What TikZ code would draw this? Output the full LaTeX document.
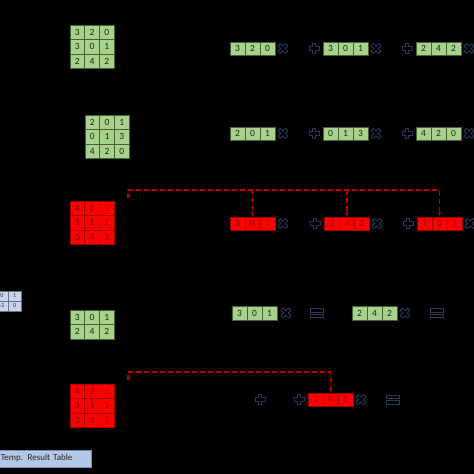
\documentclass[tikz,border=0pt]{standalone}
\usepackage{fontspec}
\setmainfont{Carlito}
\usetikzlibrary{calc, arrows.meta, positioning}

\definecolor{greenfill}{RGB}{169,209,142}
\definecolor{greenline}{RGB}{70,100,50}
\definecolor{greentext}{RGB}{25,45,15}
\definecolor{redline}{RGB}{160,0,0}
\definecolor{redtext}{RGB}{120,0,0}
\definecolor{keyfill}{RGB}{200,212,235}
\definecolor{keytext}{RGB}{40,50,80}
\definecolor{tempfill}{RGB}{180,199,231}
\definecolor{opcolor}{RGB}{45,56,90}
\definecolor{dashred}{RGB}{192,0,0}

\begin{document}
\begin{tikzpicture} [x=1pt, y=-1pt, node distance=0pt,
		% define styles
		matcell/.style={
			% The shape:
			rectangle, inner sep=0pt, outer sep=0pt,
			% The size:
			minimum width=14.7pt, minimum height=14.4pt,
			% The border:
			draw=greenline, line width=0.6pt,
			% The filling:
			fill=greenfill,
			% Font
			text=greentext, font=\fontsize{9.5}{10}\selectfont
		},
		redmatcell/.style={
			matcell,
			draw=redline, fill=red, text=redtext
		},
		veccell/.style={
			matcell,
			minimum width=15pt, minimum height=13pt
		},
		redveccell/.style={
			veccell,
			draw=redline, fill=red, text=redtext
		},
		keycell/.style={
			rectangle, inner sep=0pt, outer sep=0pt,
			minimum width=12.7pt, minimum height=10pt,
			draw=keytext!70, line width=0.4pt,
			fill=keyfill, text=keytext,
			font=\fontsize{6}{6}\selectfont
		},
		tempbox/.style={
			rectangle, inner xsep=2pt, inner ysep=0pt,
			minimum height=17pt, text width=88pt, align=left,
			draw=tempfill!70!black, line width=0.4pt,
			fill=tempfill, text=black!85,
			font=\fontsize{9}{9}\selectfont
		},
		opsign/.style={
			draw=opcolor, line width=1pt, line join=round
		},
		dashline/.style={
			-{Stealth[length=4pt, width=3.5pt]},
			% Thickness
			line width=1.4pt,
			dash pattern=on 5pt off 3pt,
			shorten >=1pt,
			% Color
			dashred
		},
		plussign/.pic={
			\draw[opsign] (-1.6,-5) -- (1.6,-5) -- (1.6,-1.6) -- (5,-1.6) -- (5,1.6) -- (1.6,1.6)
				-- (1.6,5) -- (-1.6,5) -- (-1.6,1.6) -- (-5,1.6) -- (-5,-1.6) -- (-1.6,-1.6) -- cycle;
		},
		timessign/.pic={
			\draw[opsign, rotate=45] (-1.6,-5.5) -- (1.6,-5.5) -- (1.6,-1.6) -- (5.5,-1.6) -- (5.5,1.6) -- (1.6,1.6)
				-- (1.6,5.5) -- (-1.6,5.5) -- (-1.6,1.6) -- (-5.5,1.6) -- (-5.5,-1.6) -- (-1.6,-1.6) -- cycle;
		},
		equalsign/.pic={
			\draw[opsign] (-6.5,-4.5) rectangle (6.5,-1);
			\draw[opsign] (-6.5,1) rectangle (6.5,4.5);
		}]
		% end of style definition

		% page and background
		\useasboundingbox (0,0) rectangle (474,474);
		\fill[black] (0,0) rectangle (474,474);
		\clip (0,0) rectangle (474,474);

		% draw matrices
		\node (a11) [matcell] at (77.3,32.2) {3};
		\node (a12) [matcell, right=of a11] {2};
		\node (a13) [matcell, right=of a12] {0};
		\node (a21) [matcell, below=of a11] {3};
		\node (a22) [matcell, right=of a21] {0};
		\node (a23) [matcell, right=of a22] {1};
		\node (a31) [matcell, below=of a21] {2};
		\node (a32) [matcell, right=of a31] {4};
		\node (a33) [matcell, right=of a32] {2};

		\node (b11) [matcell] at (92.3,122.2) {2};
		\node (b12) [matcell, right=of b11] {0};
		\node (b13) [matcell, right=of b12] {1};
		\node (b21) [matcell, below=of b11] {0};
		\node (b22) [matcell, right=of b21] {1};
		\node (b23) [matcell, right=of b22] {3};
		\node (b31) [matcell, below=of b21] {4};
		\node (b32) [matcell, right=of b31] {2};
		\node (b33) [matcell, right=of b32] {0};

		\node (c11) [redmatcell] at (77.3,208.2) {4};
		\node (c12) [redmatcell, right=of c11] {3};
		\node (c13) [redmatcell, right=of c12] {1};
		\node (c21) [redmatcell, below=of c11] {3};
		\node (c22) [redmatcell, right=of c21] {1};
		\node (c23) [redmatcell, right=of c22] {1};
		\node (c31) [redmatcell, below=of c21] {0};
		\node (c32) [redmatcell, right=of c31] {4};
		\node (c33) [redmatcell, right=of c32] {2};

		\node (d11) [matcell] at (77.3,317.2) {3};
		\node (d12) [matcell, right=of d11] {0};
		\node (d13) [matcell, right=of d12] {1};
		\node (d21) [matcell, below=of d11] {2};
		\node (d22) [matcell, right=of d21] {4};
		\node (d23) [matcell, right=of d22] {2};

		\node (e11) [redmatcell] at (77.3,391.2) {4};
		\node (e12) [redmatcell, right=of e11] {3};
		\node (e13) [redmatcell, right=of e12] {1};
		\node (e21) [redmatcell, below=of e11] {3};
		\node (e22) [redmatcell, right=of e21] {1};
		\node (e23) [redmatcell, right=of e22] {1};
		\node (e31) [redmatcell, below=of e21] {0};
		\node (e32) [redmatcell, right=of e31] {4};
		\node (e33) [redmatcell, right=of e32] {2};

		% small key table and result box
		\node (k11) [keycell] at (2,296) {0};
		\node (k12) [keycell, right=of k11] {1};
		\node (k21) [keycell, below=of k11] {-2};
		\node (k22) [keycell, right=of k21] {0};
		\node (temp) [tempbox, anchor=east] at (91,458.5) {Temp. Result Table};

		% first row of vectors
		\node (p1a) [veccell] at (237.5,48.5) {3};
		\node (p1b) [veccell, right=of p1a] {2};
		\node (p1c) [veccell, right=of p1b] {0};
		\node (p2a) [veccell] at (330.5,48.5) {3};
		\node (p2b) [veccell, right=of p2a] {0};
		\node (p2c) [veccell, right=of p2b] {1};
		\node (p3a) [veccell] at (423.5,48.5) {2};
		\node (p3b) [veccell, right=of p3a] {4};
		\node (p3c) [veccell, right=of p3b] {2};
		\pic (px1) at (283,48.5) {timessign};
		\pic (pp1) at (314,48.5) {plussign};
		\pic (px2) at (376,48.5) {timessign};
		\pic (pp2) at (407,48.5) {plussign};
		\pic (px3) at (469,48.5) {timessign};

		% second row of vectors
		\node (q1a) [veccell] at (237.5,133.5) {2};
		\node (q1b) [veccell, right=of q1a] {0};
		\node (q1c) [veccell, right=of q1b] {1};
		\node (q2a) [veccell] at (330.5,133.5) {0};
		\node (q2b) [veccell, right=of q2a] {1};
		\node (q2c) [veccell, right=of q2b] {3};
		\node (q3a) [veccell] at (423.5,133.5) {4};
		\node (q3b) [veccell, right=of q3a] {2};
		\node (q3c) [veccell, right=of q3b] {0};
		\pic (qx1) at (283,133.5) {timessign};
		\pic (qp1) at (314,133.5) {plussign};
		\pic (qx2) at (376,133.5) {timessign};
		\pic (qp2) at (407,133.5) {plussign};
		\pic (qx3) at (469,133.5) {timessign};

		% third row of vectors (red)
		\node (s1a) [redveccell] at (237.5,223.5) {3};
		\node (s1b) [redveccell, right=of s1a] {0};
		\node (s1c) [redveccell, right=of s1b] {1};
		\node (s2a) [redveccell] at (332,223.5) {2};
		\node (s2b) [redveccell, right=of s2a] {4};
		\node (s2c) [redveccell, right=of s2b] {2};
		\node (s3a) [redveccell] at (424.5,223.5) {1};
		\node (s3b) [redveccell, right=of s3a] {0};
		\node (s3c) [redveccell, right=of s3b] {1};
		\pic (sx1) at (283,223.5) {timessign};
		\pic (sp1) at (315,223.5) {plussign};
		\pic (sx2) at (377,223.5) {timessign};
		\pic (sp2) at (408,223.5) {plussign};
		\pic (sx3) at (470,223.5) {timessign};

		% fourth row of vectors
		\node (t1a) [veccell, minimum height=14pt] at (239.5,313) {3};
		\node (t1b) [veccell, minimum height=14pt, right=of t1a] {0};
		\node (t1c) [veccell, minimum height=14pt, right=of t1b] {1};
		\node (t2a) [veccell, minimum height=14pt] at (359.5,313) {2};
		\node (t2b) [veccell, minimum height=14pt, right=of t2a] {4};
		\node (t2c) [veccell, minimum height=14pt, right=of t2b] {2};
		\pic (tx1) at (286,313) {timessign};
		\pic (te1) at (317,313) {equalsign};
		\pic (tx2) at (405,313) {timessign};
		\pic (te2) at (437,313) {equalsign};

		% fifth row (red)
		\node (u1a) [redveccell] at (315.5,399.5) {1};
		\node (u1b) [redveccell, right=of u1a] {0};
		\node (u1c) [redveccell, right=of u1b] {1};
		\pic (up1) at (260,399.5) {plussign};
		\pic (up2) at (299,399.5) {plussign};
		\pic (ux1) at (361,399.5) {timessign};
		\pic (ue1) at (393,399.5) {equalsign};

		% connect nodes
		\coordinate (d1s) at (128,198);
		\coordinate (d1) at (128,190);
		\draw [dashline] (d1s) -- (d1) -| (s3b.north);
		\draw [dashline] (d1 -| s1b) -- (s1b.north);
		\draw [dashline] (d1 -| s2b) -- (s2b.north);

		\coordinate (d2s) at (128,380);
		\coordinate (d2) at (128,372);
		\draw [dashline] (d2s) -- (d2) -| (u1b.north);
	\end{tikzpicture}
\end{document}
